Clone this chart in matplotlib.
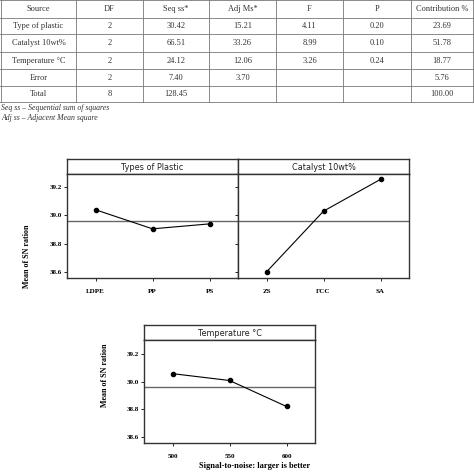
import matplotlib
matplotlib.use('Agg')
import matplotlib.pyplot as plt

# ANOVA table
table_cols = ['Source', 'DF', 'Seq ss*', 'Adj Ms*', 'F', 'P', 'Contribution %']
table_rows = [
    ['Type of plastic', '2', '30.42', '15.21', '4.11', '0.20', '23.69'],
    ['Catalyst 10wt%', '2', '66.51', '33.26', '8.99', '0.10', '51.78'],
    ['Temperature \u00b0C', '2', '24.12', '12.06', '3.26', '0.24', '18.77'],
    ['Error', '2', '7.40', '3.70', '', '', '5.76'],
    ['Total', '8', '128.45', '', '', '', '100.00'],
]
footnotes = ['Seq ss \u2013 Sequential sum of squares', 'Adj ss \u2013 Adjacent Mean square']

# main effects for SN ratios
plastic_levels = ['LDPE', 'PP', 'PS']
plastic_sn = [39.04, 38.905, 38.94]
catalyst_levels = ['ZS', 'FCC', 'SA']
catalyst_sn = [38.60, 39.03, 39.255]
temp_levels = ['500', '550', '600']
temp_sn = [39.06, 39.01, 38.82]
grand_mean = 38.963

W = H = 474
SERIF = ['Liberation Serif', 'DejaVu Serif']
NARROW = ['DejaVu Sans']


def px_axes(fig, x0, y0, x1, y1):
    return fig.add_axes([x0 / W, 1 - y1 / H, (x1 - x0) / W, (y1 - y0) / H])


def header(fig, x0, y0, x1, y1, title):
    h = px_axes(fig, x0, y0, x1, y1)
    h.set_xticks([])
    h.set_yticks([])
    for s in h.spines.values():
        s.set_linewidth(1.0)
        s.set_color('#333333')
    h.text(0.5, 0.45, title, ha='center', va='center', fontsize=6.5,
           family=NARROW, stretch='condensed', color='#222222')


def effect_panel(ax, levels, vals, ylim, left_ticks):
    x = range(len(levels))
    ax.axhline(grand_mean, color='#666666', lw=1.0, zorder=1)
    ax.plot(x, vals, color='k', lw=0.8, marker='o', ms=3.0, zorder=2)
    ax.set_xlim(-0.5, len(levels) - 0.5)
    ax.set_ylim(*ylim)
    ax.set_xticks(list(x))
    ax.set_xticklabels(levels, fontsize=5, family=SERIF, fontweight='bold')
    ax.set_yticks([38.6, 38.8, 39.0, 39.2])
    if left_ticks:
        ax.set_yticklabels(['38.6', '38.8', '39.0', '39.2'], fontsize=5,
                           family=SERIF, fontweight='bold')
    else:
        ax.tick_params(axis='y', length=0, labelleft=False)
    ax.tick_params(axis='x', length=2, width=0.6, pad=6)
    ax.tick_params(axis='y', length=2, width=0.6, pad=1.5)
    for s in ax.spines.values():
        s.set_linewidth(1.0)
        s.set_color('#333333')


fig = plt.figure(figsize=(4.74, 4.74), dpi=100)

# background axes in pixel coordinates for the table
bg = fig.add_axes([0, 0, 1, 1])
bg.set_xlim(0, W)
bg.set_ylim(H, 0)
bg.axis('off')

col_edges = [1, 76, 143, 209, 276, 343, 411, 473]
row_edges = [0, 18, 34, 52, 69, 86, 102]
for y in row_edges:
    bg.plot([0, W], [y, y], color='#777777', lw=0.6)
for x in col_edges:
    bg.plot([x, x], [row_edges[0], row_edges[-1]], color='#777777', lw=0.6)

centers = [(col_edges[i] + col_edges[i + 1]) / 2 for i in range(len(col_edges) - 1)]
for j, name in enumerate(table_cols):
    bg.text(centers[j], 9, name, ha='center', va='center', fontsize=6,
            family=SERIF, color='#333333')
for i, row in enumerate(table_rows):
    yc = (row_edges[i + 1] + row_edges[i + 2]) / 2
    for j, cell in enumerate(row):
        bg.text(centers[j], yc, cell, ha='center', va='center', fontsize=6,
                family=SERIF, color='#333333')

for k, note in enumerate(footnotes):
    bg.text(1, 108 + 10 * k, note, ha='left', va='center', fontsize=5.6,
            family=SERIF, style='italic', color='#333333')

ylim = (38.557, 39.293)

# top row: plastic and catalyst
header(fig, 67, 159, 238, 174, 'Types of Plastic')
header(fig, 238, 159, 409, 174, 'Catalyst 10wt%')
ax1 = px_axes(fig, 67, 174, 238, 278)
ax2 = px_axes(fig, 238, 174, 409, 278)
effect_panel(ax1, plastic_levels, plastic_sn, ylim, True)
effect_panel(ax2, catalyst_levels, catalyst_sn, ylim, False)
bg.text(27, 256, 'Mean of SN ration', rotation=90, ha='center', va='center',
        fontsize=5.8, family=SERIF, fontweight='bold')

# bottom: temperature
header(fig, 144, 325, 315, 340, 'Temperature \u00b0C')
ax3 = px_axes(fig, 144, 340, 315, 443)
effect_panel(ax3, temp_levels, temp_sn, (38.553, 39.306), True)
bg.text(105, 375, 'Mean of SN ration', rotation=90, ha='center', va='center',
        fontsize=5.8, family=SERIF, fontweight='bold')
bg.text(255, 466, 'Signal-to-noise: larger is better', ha='center', va='center',
        fontsize=6, family=SERIF, fontweight='bold')

fig.savefig('out.png', dpi=100)
